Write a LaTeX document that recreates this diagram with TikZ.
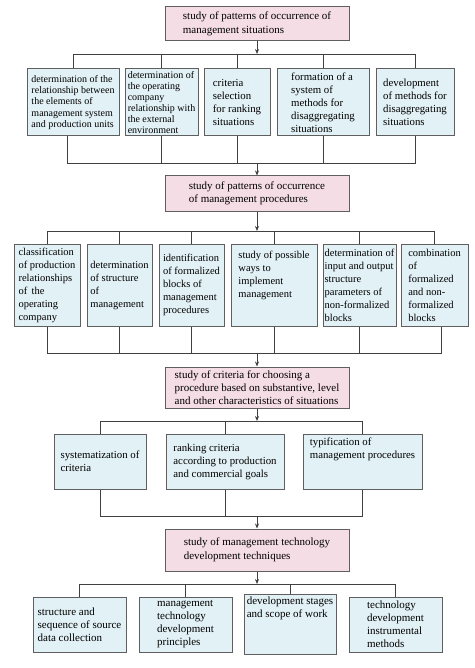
\documentclass[tikz,border=0pt]{standalone}
\usepackage{fontspec}
\setmainfont{Liberation Serif}
\usetikzlibrary{arrows.meta}

\definecolor{headpink}{RGB}{245,221,230}
\definecolor{itemblue}{RGB}{226,241,246}
\definecolor{framegray}{RGB}{95,95,95}

\tikzset{
  box/.style={draw=framegray, line width=1pt, inner sep=2pt, align=left},
  headbox/.style={box, fill=headpink, minimum width=184pt, font=\fontsize{11}{13.5}\selectfont},
  itembox/.style={box, fill=itemblue, font=\fontsize{10.8}{13}\selectfont},
  link/.style={draw=black!75, line width=0.7pt},
  feed/.style={link, -{Stealth[length=5pt,width=4pt]}}
}

\begin{document}
\begin{tikzpicture}[x=1pt,y=-1pt]

\useasboundingbox (0,0) rectangle (474,668);

% level 1
\node [headbox, minimum height=34pt] (sit) at (257,24) {study of patterns of occurrence of\\management situations};

\coordinate (bus1) at (257,54);
\coordinate (bus2) at (257,163);

\node [itembox, minimum width=92pt, minimum height=67pt, font=\fontsize{10}{11.3}\selectfont] (s1) at (73,102.5) {determination of the\\relationship between\\the elements of\\management system\\and production units};
\node [itembox, minimum width=73pt, minimum height=67pt, inner sep=1pt, font=\fontsize{10}{11}\selectfont] (s2) at (161.5,102.5) {determination of\\the operating\\company\\relationship with\\the external\\environment};
\node [itembox, minimum width=66pt, minimum height=67pt] (s3) at (237,102.5) {criteria\\selection\\for ranking\\situations};
\node [itembox, minimum width=92pt, minimum height=67pt] (s4) at (323,102.5) {formation of a\\system of\\methods for\\disaggregating\\situations};
\node [itembox, minimum width=78pt, minimum height=67pt] (s5) at (415,102.5) {development\\of methods for\\disaggregating\\situations};

\draw [feed] (sit.south) -- (bus1);
\draw [link] (s1.north) -- (s1.north |- bus1) -- (s5.north |- bus1) -- (s5.north);
\foreach \n in {s2,s3,s4}
  \draw [link] (\n.north) -- (\n.north |- bus1);
\draw [link] ([xshift=-6pt]s1.south) -- ([xshift=-6pt]s1.south |- bus2) -- (s5.south |- bus2) -- (s5.south);
\foreach \n in {s2,s3,s4}
  \draw [link] (\n.south) -- (\n.south |- bus2);

% level 2
\node [headbox, minimum height=35pt] (proc) at (257,193.5) {study of patterns of occurrence\\of management procedures};
\draw [feed] (bus2) -- (proc.north);

\coordinate (bus3) at (257,231);
\coordinate (bus4) at (257,353);

\tikzset{rowtwo/.style={itembox, minimum height=82pt, font=\fontsize{10.5}{13}\selectfont}}
\node [rowtwo, minimum width=66pt] (p1) at (47,285) {classification\\of production\\relationships\\of\, the\\operating\\company};
\node [rowtwo, minimum width=65pt] (p2) at (119.5,285) {determination\\of structure\\of\\management};
\node [rowtwo, minimum width=65pt] (p3) at (191.5,285) {identification\\of formalized\\blocks of\\management\\procedures};
\node [rowtwo, minimum width=86pt] (p4) at (274,285) {study of possible\\ways to\\implement\\management\\[8pt]};
\node [rowtwo, minimum width=73pt, inner sep=1pt] (p5) at (359.5,285) {determination of\\input and output\\structure\\parameters of\\non-formalized\\blocks};
\node [rowtwo, minimum width=67pt] (p6) at (434.5,285) {combination\\of\\formalized\\and non-\\formalized\\blocks};

\draw [feed] (proc.south) -- (bus3);
\draw [link] (p1.north) -- (p1.north |- bus3) -- (p6.north |- bus3) -- (p6.north);
\foreach \n in {p2,p3,p4,p5}
  \draw [link] (\n.north) -- (\n.north |- bus3);
\draw [link] (p1.south) -- (p1.south |- bus4) -- ([xshift=7pt]p6.south |- bus4) -- ([xshift=7pt]p6.south);
\foreach \n in {p2,p3,p4,p5}
  \draw [link] (\n.south) -- (\n.south |- bus4);

% level 3
\node [headbox, minimum height=41pt, inner sep=0.5pt, font=\fontsize{11}{13}\selectfont] (crit) at (257,387.5) {study of criteria for choosing a\\procedure based on substantive, level\\and other characteristics of situations};
\draw [feed] (bus4) -- (crit.north);

\coordinate (bus5) at (257,421);
\coordinate (bus6) at (257,516);

\node [itembox, minimum width=92pt, minimum height=55pt] (c1) at (100,461.5) {systematization of\\criteria};
\node [itembox, minimum width=118pt, minimum height=55pt] (c2) at (225,461.5) {ranking criteria\\according to production\\and commercial goals};
\node [itembox, minimum width=119pt, minimum height=55pt] (c3) at (362.5,461.5) {typification of\\management procedures\\[14pt]};

\draw [feed] (crit.south) -- (bus5);
\draw [link] (c1.north) -- (c1.north |- bus5) -- (c3.north |- bus5) -- (c3.north);
\draw [link] (c2.north) -- (c2.north |- bus5);
\draw [link] (c1.south) -- (c1.south |- bus6) -- (c3.south |- bus6) -- (c3.south);
\draw [link] (c2.south) -- (c2.south |- bus6);

% level 4
\node [headbox, minimum height=42pt] (tech) at (257,550) {study of management technology\\development techniques};
\draw [feed] (bus6) -- (tech.north);

\coordinate (bus7) at (257,584);

\tikzset{rowfour/.style={itembox, minimum width=93pt, minimum height=55pt, font=\fontsize{11}{13}\selectfont}}
\node [rowfour] (t1) at (79.5,624.5) {structure and\\sequence of source\\data collection};
\node [rowfour] (t2) at (185.5,624.5) {management\\technology\\development\\principles};
\node [rowfour, minimum width=92pt] (t3) at (290,624.5) {development stages\\and scope of work\\[22pt]};
\node [rowfour] (t4) at (395.5,624.5) {technology\\development\\instrumental\\methods};

\draw [feed] (tech.south) -- (bus7);
\draw [link] (t1.north) -- (t1.north |- bus7) -- (t4.north |- bus7) -- (t4.north);
\foreach \n in {t2,t3}
  \draw [link] (\n.north) -- (\n.north |- bus7);

\end{tikzpicture}
\end{document}
